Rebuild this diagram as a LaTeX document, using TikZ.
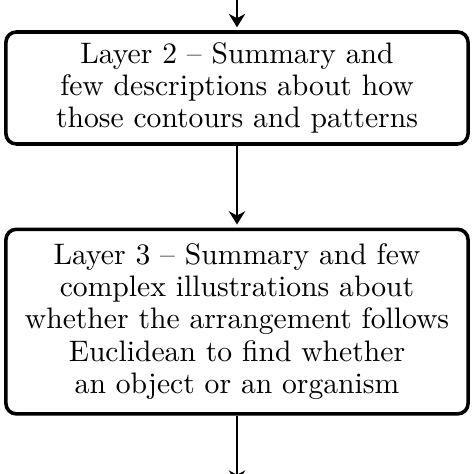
\documentclass[tikz,border=0pt]{standalone}
\usetikzlibrary{positioning,arrows.meta}
\begin{document}
\begin{tikzpicture}[>={Stealth[length=4.5pt,width=5.5pt]},
	layer/.style={draw, line width=1.2pt, rounded corners=3.5pt, align=center, minimum width=156pt, inner sep=2pt, font=\fontsize{10}{10.9}\selectfont},
	link/.style={->, line width=0.7pt, shorten >=1pt}]
	\useasboundingbox (0,0) rectangle (160pt,-160pt);
	\node[layer, minimum height=37.8pt] (l2) at (80pt,-29.7pt)
		{Layer 2 -- Summary and\\few descriptions about how\\those contours and patterns};
	\node[layer, minimum height=62.3pt, below=27.6pt of l2] (l3)
		{Layer 3 -- Summary and few\\complex illustrations about\\whether the arrangement follows\\Euclidean to find whether\\an object or an organism};
	\path
		(l2.north) ++(0,12pt) coordinate (top)
		(l3.south) ++(0,-24pt) coordinate (bot)
	;
	\draw[link] (top) -- (l2);
	\draw[link] (l2) -- (l3);
	\draw[link] (l3) -- (bot);
\end{tikzpicture}
\end{document}
